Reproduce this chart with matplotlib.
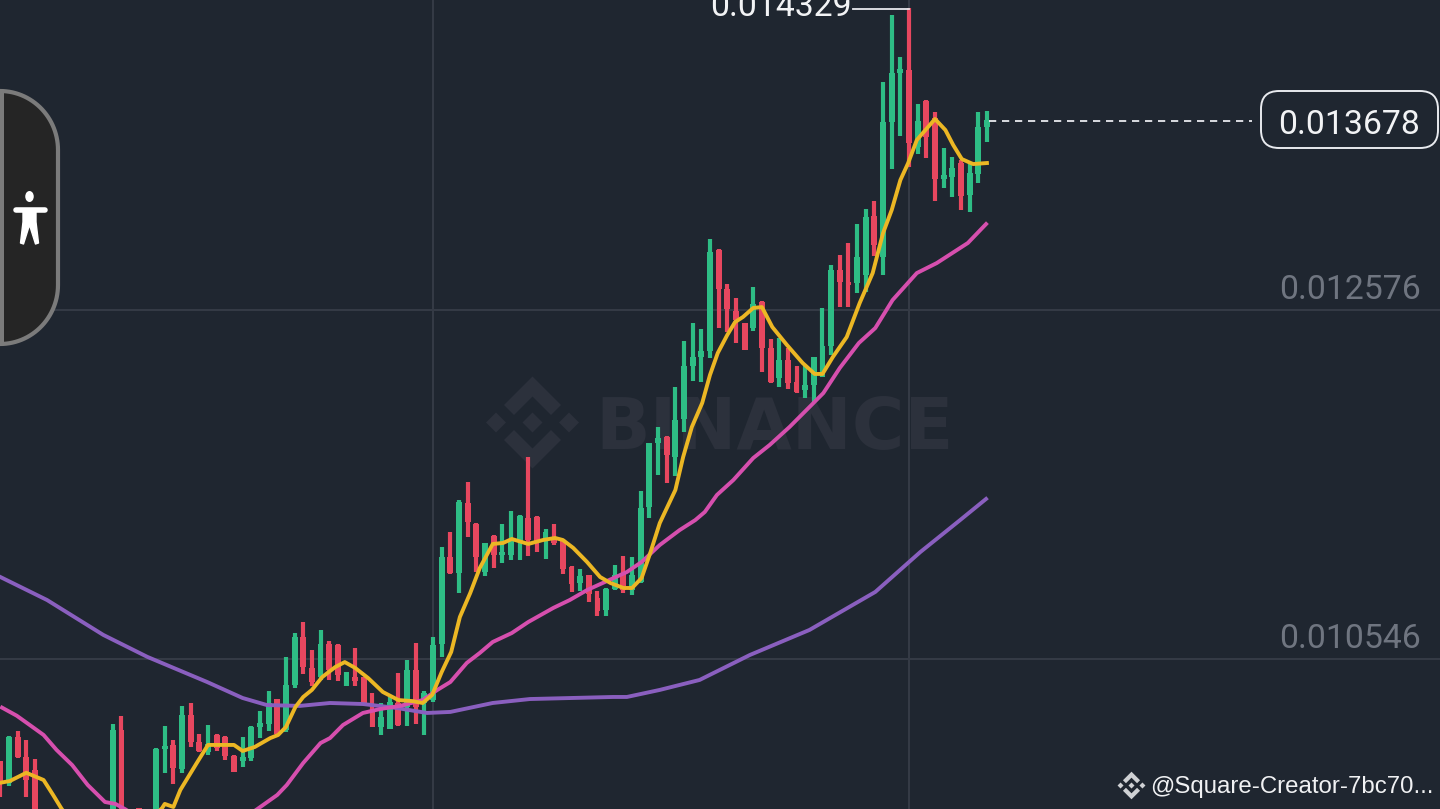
import numpy as np
import matplotlib
matplotlib.use("Agg")
import matplotlib.pyplot as plt
from matplotlib.patches import Ellipse, FancyBboxPatch, Polygon

# all prices below are in millionths
bar_index = [0, 1, 2, 3, 4, 13, 14, 16, 18, 19, 20, 21, 22, 23, 24, 25, 26, 27, 28, 29,
             30, 31, 32, 33, 34, 35, 36, 37, 38, 39, 40, 41, 42, 43, 44, 45, 46, 47, 48, 49,
             50, 51, 52, 53, 54, 55, 56, 57, 58, 59, 60, 61, 62, 63, 64, 65, 66, 67, 68, 69,
             70, 71, 72, 73, 74, 75, 76, 77, 78, 79, 80, 81, 82, 83, 84, 85, 86, 87, 88, 89,
             90, 91, 92, 93, 94, 95, 96, 97, 98, 99, 100, 101, 102, 103, 104, 105, 106, 107, 108, 109,
             110, 111, 112, 113, 114]
direction = list("rgrrr" "grrg" "grgrrgrrrgg" "ggrgg" "rrgrrgrrrgg" "rgrg"
                 "ggrgrrgrgg" "grrgrrrgrr" "ggrg" "gggrggggg" "rrrrgrr"
                 "grrggggrrg" "grgggrgrrggrggg")
highs = [9951, 10098, 10129, 10075, 9966, 10168, 10216, 9677, 10026, 10156, 10075, 10271, 10292, 10108, 10160, 10108, 10098, 9987, 10094, 10156,
         10243, 10360, 10315, 10556, 10695, 10759, 10598, 10715, 10653, 10633, 10472, 10610, 10443, 10346, 10288, 10327, 10466, 10540, 10637, 10362,
         10676, 11195, 11287, 11471, 11574, 11335, 11223, 11265, 11331, 11407, 11382, 11719, 11378, 11302, 11331, 11242, 11087, 11067, 11036, 10943,
         10957, 11093, 11145, 11141, 11523, 11804, 11897, 11843, 12126, 12398, 12502, 12464, 12989, 12929, 12725, 12644, 12502, 12708, 12628, 12405,
         12411, 12353, 12250, 12256, 12305, 12586, 12838, 12896, 12964, 13076, 13162, 13210, 13904, 14294, 14046, 14331, 13772, 13798, 13730, 13516,
         13464, 13449, 13429, 13726, 13734]
body_tops = [9951, 10094, 10094, 9978, 9900, 10133, 10133, 9677, 10022, 10042, 10046, 10220, 10220, 10065, 10051, 10104, 10094, 9982, 9978, 10152,
             10172, 10288, 10311, 10395, 10676, 10676, 10492, 10633, 10633, 10627, 10468, 10443, 10439, 10249, 10210, 10298, 10288, 10482, 10482, 10350,
             10627, 11141, 11137, 11461, 11455, 11331, 11219, 11261, 11170, 11238, 11378, 11364, 11374, 11287, 11238, 11238, 11083, 11029, 11033, 10899,
             10953, 11035, 11044, 11035, 11422, 11800, 11833, 11839, 11936, 12252, 12301, 12340, 12915, 12925, 12696, 12572, 12499, 12611, 12625, 12353,
             12285, 12285, 12159, 12140, 12301, 12367, 12809, 12809, 12741, 12882, 13119, 13125, 13672, 13953, 13976, 13972, 13677, 13794, 13691, 13361,
             13400, 13429, 13371, 13639, 13681]
body_bottoms = [9832, 9823, 9978, 9842, 9600, 9640, 9620, 9600, 9640, 10022, 9910, 9904, 10065, 10011, 10007, 10026, 9982, 9887, 9954, 9972,
                10148, 10166, 10108, 10133, 10395, 10501, 10414, 10443, 10482, 10453, 10389, 10420, 10288, 10152, 10152, 10137, 10162, 10269, 10269, 10288,
                10307, 10633, 11044, 11044, 11345, 11141, 11054, 11151, 11151, 11151, 11228, 11238, 11228, 11238, 11219, 11067, 10982, 10986, 10924, 10827,
                10831, 10953, 10947, 10947, 10996, 11428, 11800, 11733, 11723, 11940, 12252, 12301, 12340, 12696, 12580, 12518, 12343, 12469, 12353, 12155,
                12179, 12149, 12101, 12111, 12140, 12188, 12367, 12741, 12721, 12731, 12780, 12954, 12886, 13672, 13957, 13546, 13526, 13584, 13338, 13338,
                13348, 13241, 13245, 13367, 13639]
lows = [9741, 9809, 9968, 9745, 9560, 9600, 9580, 9570, 9600, 9885, 9817, 9885, 10036, 10007, 9987, 10011, 9958, 9887, 9920, 9954,
        10084, 10127, 10104, 10123, 10375, 10459, 10389, 10424, 10424, 10420, 10389, 10391, 10288, 10148, 10104, 10137, 10156, 10158, 10168, 10104,
        10298, 10559, 11040, 10932, 11257, 11054, 11031, 11077, 11102, 11122, 11122, 11145, 11170, 11128, 11209, 11040, 10936, 10943, 10875, 10796,
        10798, 10947, 10932, 10918, 10990, 11368, 11616, 11568, 11612, 11868, 12163, 12155, 12299, 12469, 12450, 12382, 12343, 12456, 12213, 12153,
        12130, 12116, 12095, 12066, 12043, 12184, 12314, 12595, 12595, 12677, 12683, 12892, 12780, 13396, 13590, 13410, 13484, 13458, 13210, 13288,
        13235, 13158, 13148, 13317, 13555]

ma_fast_x = [0, 1.1, 3, 5, 6.1, 7.1, 9.2, 13.8, 16.7, 18.7, 19, 20, 20.8, 22.7, 24, 26, 27, 28, 29.4, 31.2,
             32.1, 33, 34.1, 35, 36, 37.2, 38.7, 39.8, 41, 42.5, 44.2, 46, 47.6, 48.8, 49.9, 51, 52.1, 53.1, 54.3, 55.4,
             56.9, 58.1, 59.1, 61, 62.7, 64.1, 65, 66.2, 67.8, 69.3, 70.5, 72, 73, 74.1, 75.1, 76.2, 78, 78.9, 79.9, 81.1,
             82, 82.9, 84, 84.9, 85.8, 87, 88, 89.2, 90.9, 92.7, 94.1, 95, 96.2, 97.8, 99.3, 100.8, 102, 103, 104, 104.9,
             105.9, 107.1, 108, 109.2, 110.1, 111.1, 112.4, 114]
ma_fast = [9826, 9836, 9884, 9842, 9755, 9673, 9551, 9493, 9580, 9679, 9703, 9685, 9784, 9941, 10046, 10046, 10046, 10011, 10034, 10086,
           10104, 10150, 10267, 10325, 10366, 10441, 10499, 10528, 10494, 10435, 10354, 10307, 10301, 10290, 10337, 10470, 10587, 10790, 10930, 11075,
           11215, 11221, 11244, 11215, 11238, 11250, 11238, 11192, 11110, 11023, 10988, 10959, 10959, 11017, 11163, 11337, 11529, 11721, 11895, 12035,
           12198, 12326, 12431, 12506, 12535, 12588, 12593, 12477, 12372, 12268, 12204, 12204, 12303, 12419, 12617, 12791, 13024, 13158, 13332, 13431,
           13565, 13635, 13687, 13623, 13536, 13454, 13425, 13431]

ma_mid_x = [0.2, 1.9, 3.4, 5, 6.5, 8.3, 10.1, 12.1, 13.3, 14.4, 17.3, 21.9, 26.5, 29.7, 32, 33.1, 35, 37, 38.1, 39.6,
            41.9, 43.9, 46.2, 48.8, 50.5, 52, 53.9, 55.4, 56.9, 59.1, 61, 63.9, 65.8, 67.8, 69.6, 72.4, 74.1, 76.2, 78.5, 80.3,
            81.4, 82.8, 84.7, 87, 88.9, 91.2, 93.5, 95.1, 97, 99.2, 101.1, 103.1, 105.9, 108.2, 111.8, 113.9]
ma_mid = [10263, 10216, 10162, 10104, 10017, 9929, 9813, 9714, 9703, 9673, 9580, 9505, 9563, 9673, 9755, 9813, 9941, 10057, 10086, 10162,
          10232, 10255, 10273, 10307, 10366, 10412, 10523, 10581, 10645, 10697, 10761, 10843, 10889, 10947, 10988, 11052, 11110, 11209, 11296, 11354,
          11401, 11500, 11587, 11715, 11791, 11896, 12012, 12093, 12239, 12384, 12471, 12634, 12791, 12849, 12966, 13076]

ma_slow_x = [0, 5.4, 11.9, 17, 23.9, 28, 30.8, 34.6, 38.1, 41.9, 45.8, 49.3, 52, 56.9, 61.2, 70.8, 72.4, 76.2, 80.8, 86.6,
             93.5, 101.1, 106.3, 110.9, 113.9]
ma_slow = [11023, 10889, 10686, 10558, 10412, 10319, 10278, 10273, 10290, 10284, 10261, 10232, 10238, 10290, 10313, 10325, 10325, 10366, 10424, 10569,
           10715, 10936, 11168, 11354, 11477]

grid_prices = [12576, 10546]
grid_bars = [50, 105]
last_price = 13678
high_price = 14329
high_bar = 105

BG = "#1f2630"
GREEN = "#2ebd85"
RED = "#e7475f"
GRID = "#343a45"
MARK = "#2c313c"

plt.rcParams["font.family"] = ["Roboto", "DejaVu Sans"]

fig = plt.figure(figsize=(14.4, 8.09), dpi=100, facecolor=BG)
ax = fig.add_axes([0, 0, 1, 1])
ax.set_xlim(-0.035, 166.35)
ax.set_ylim(9673.3e-6, 14379.3e-6)
ax.axis("off")

# px layer for the things that are not chart marks
ov = fig.add_axes([0, 0, 1, 1], zorder=5)
ov.set_xlim(0, 1440)
ov.set_ylim(809, 0)
ov.axis("off")


def draw_logo(target, cx, cy, s, color, z):
    for dx in (-36.5, 0, 36.5):
        target.add_patch(Polygon([(cx + dx * s, cy - 10 * s), (cx + (dx + 10) * s, cy),
                                  (cx + dx * s, cy + 10 * s), (cx + (dx - 10) * s, cy)],
                                 closed=True, fc=color, ec="none", zorder=z))
    for sign in (-1, 1):
        target.add_patch(Polygon([(cx, cy + sign * 46 * s), (cx + 28.5 * s, cy + sign * 17.5 * s),
                                  (cx + 18.5 * s, cy + sign * 7.5 * s), (cx, cy + sign * 26 * s),
                                  (cx - 18.5 * s, cy + sign * 7.5 * s), (cx - 28.5 * s, cy + sign * 17.5 * s)],
                                 closed=True, fc=color, ec="none", zorder=z))


# watermark sits under the candles
wm = fig.add_axes([0, 0, 1, 1], zorder=-1)
wm.set_xlim(0, 1440)
wm.set_ylim(809, 0)
wm.axis("off")
draw_logo(wm, 532.5, 422.5, 1.0, MARK, 1)
wm.text(775, 421.5, "BINANCE", color=MARK, fontsize=51.6, fontweight="bold", family="DejaVu Sans",
        ha="center", va="center_baseline")

for p in grid_prices:
    ax.axhline(p * 1e-6, color=GRID, lw=1.5, zorder=1)
for b in grid_bars:
    ax.axvline(b, color=GRID, lw=1.5, zorder=1)

x = np.array(bar_index)
tops = np.array(body_tops) * 1e-6
bots = np.array(body_bottoms) * 1e-6
colors = [GREEN if d == "g" else RED for d in direction]
ax.vlines(x, np.array(lows) * 1e-6, np.array(highs) * 1e-6, colors=colors, lw=3.0, zorder=2)
ax.bar(x, tops - bots, bottom=bots, width=0.68, color=colors, zorder=2)

ax.plot(ma_slow_x, np.array(ma_slow) * 1e-6, color="#8a5fbf", lw=2.8, zorder=3)
ax.plot(ma_mid_x, np.array(ma_mid) * 1e-6, color="#d64fae", lw=2.8, zorder=3)
ax.plot(ma_fast_x, np.array(ma_fast) * 1e-6, color="#ecb724", lw=2.8, zorder=4)

# axis labels, sitting above their grid lines
for p in grid_prices:
    ax.annotate(f"{p * 1e-6:.6f}", (164.15, p * 1e-6), xytext=(0, 3), textcoords="offset points",
                color="#6f7580", fontsize=24.3, ha="right", va="bottom", zorder=5)

# last price tag
ax.plot([114.2, 144.6], [last_price * 1e-6] * 2, color="#e8eaee", lw=1.3,
        dashes=(4, 3.2), zorder=4)
ov.add_patch(FancyBboxPatch((1261, 91), 177, 57, boxstyle="round,pad=0,rounding_size=18",
                            fc=BG, ec="#e8eaee", lw=1.4))
ov.text(1420, 121, f"{last_price * 1e-6:.6f}", color="#f2f3f5", fontsize=24.3,
        ha="right", va="center_baseline")

# highest price marker, the label runs off the top like in the app
ax.plot([98.5, high_bar], [high_price * 1e-6] * 2, color="#e8eaee", lw=1.3, zorder=4)
ax.annotate(f"{high_price * 1e-6:.6f}", (98.4, high_price * 1e-6), xytext=(0, 4),
            textcoords="offset points", color="#f2f3f5", fontsize=24.3,
            ha="right", va="center_baseline", zorder=6)

# accessibility button
arc = np.linspace(0, np.pi / 2, 30)
btn_x = np.r_[-5, 58 * np.sin(arc), 58 * np.cos(arc), -5]
btn_y = np.r_[91, 150 - 59 * np.cos(arc), 285 + 59 * np.sin(arc), 344]
ov.add_patch(Polygon(np.c_[btn_x, btn_y], closed=True, fc="#252525", ec="#7b7b7b", lw=3))
ov.add_patch(Polygon([(0, 90), (4, 90), (4, 345), (0, 345)], closed=True, fc="#7b7b7b", ec="none"))
ov.add_patch(Ellipse((29.5, 196.5), 8.5, 11, fc="white", ec="none"))
ov.plot([15.5, 44.5], [210, 210], color="white", lw=4, solid_capstyle="round")
ov.add_patch(Polygon([(23, 210), (36, 210), (36, 222), (38.5, 243), (35.5, 244), (29.5, 225),
                      (23.5, 244), (20.5, 243), (23, 222)], closed=True, fc="white", ec="white",
                     lw=1, joinstyle="round"))

# creator tag
draw_logo(ov, 1131.5, 785.5, 0.3, "#cfd1d4", 6)
ov.text(1150, 787, "@Square-Creator-7bc70...", color="#f0f1f3", fontsize=17.3,
        family="Liberation Sans", ha="left", va="center")

fig.savefig("out.png", dpi=100, facecolor=BG)
